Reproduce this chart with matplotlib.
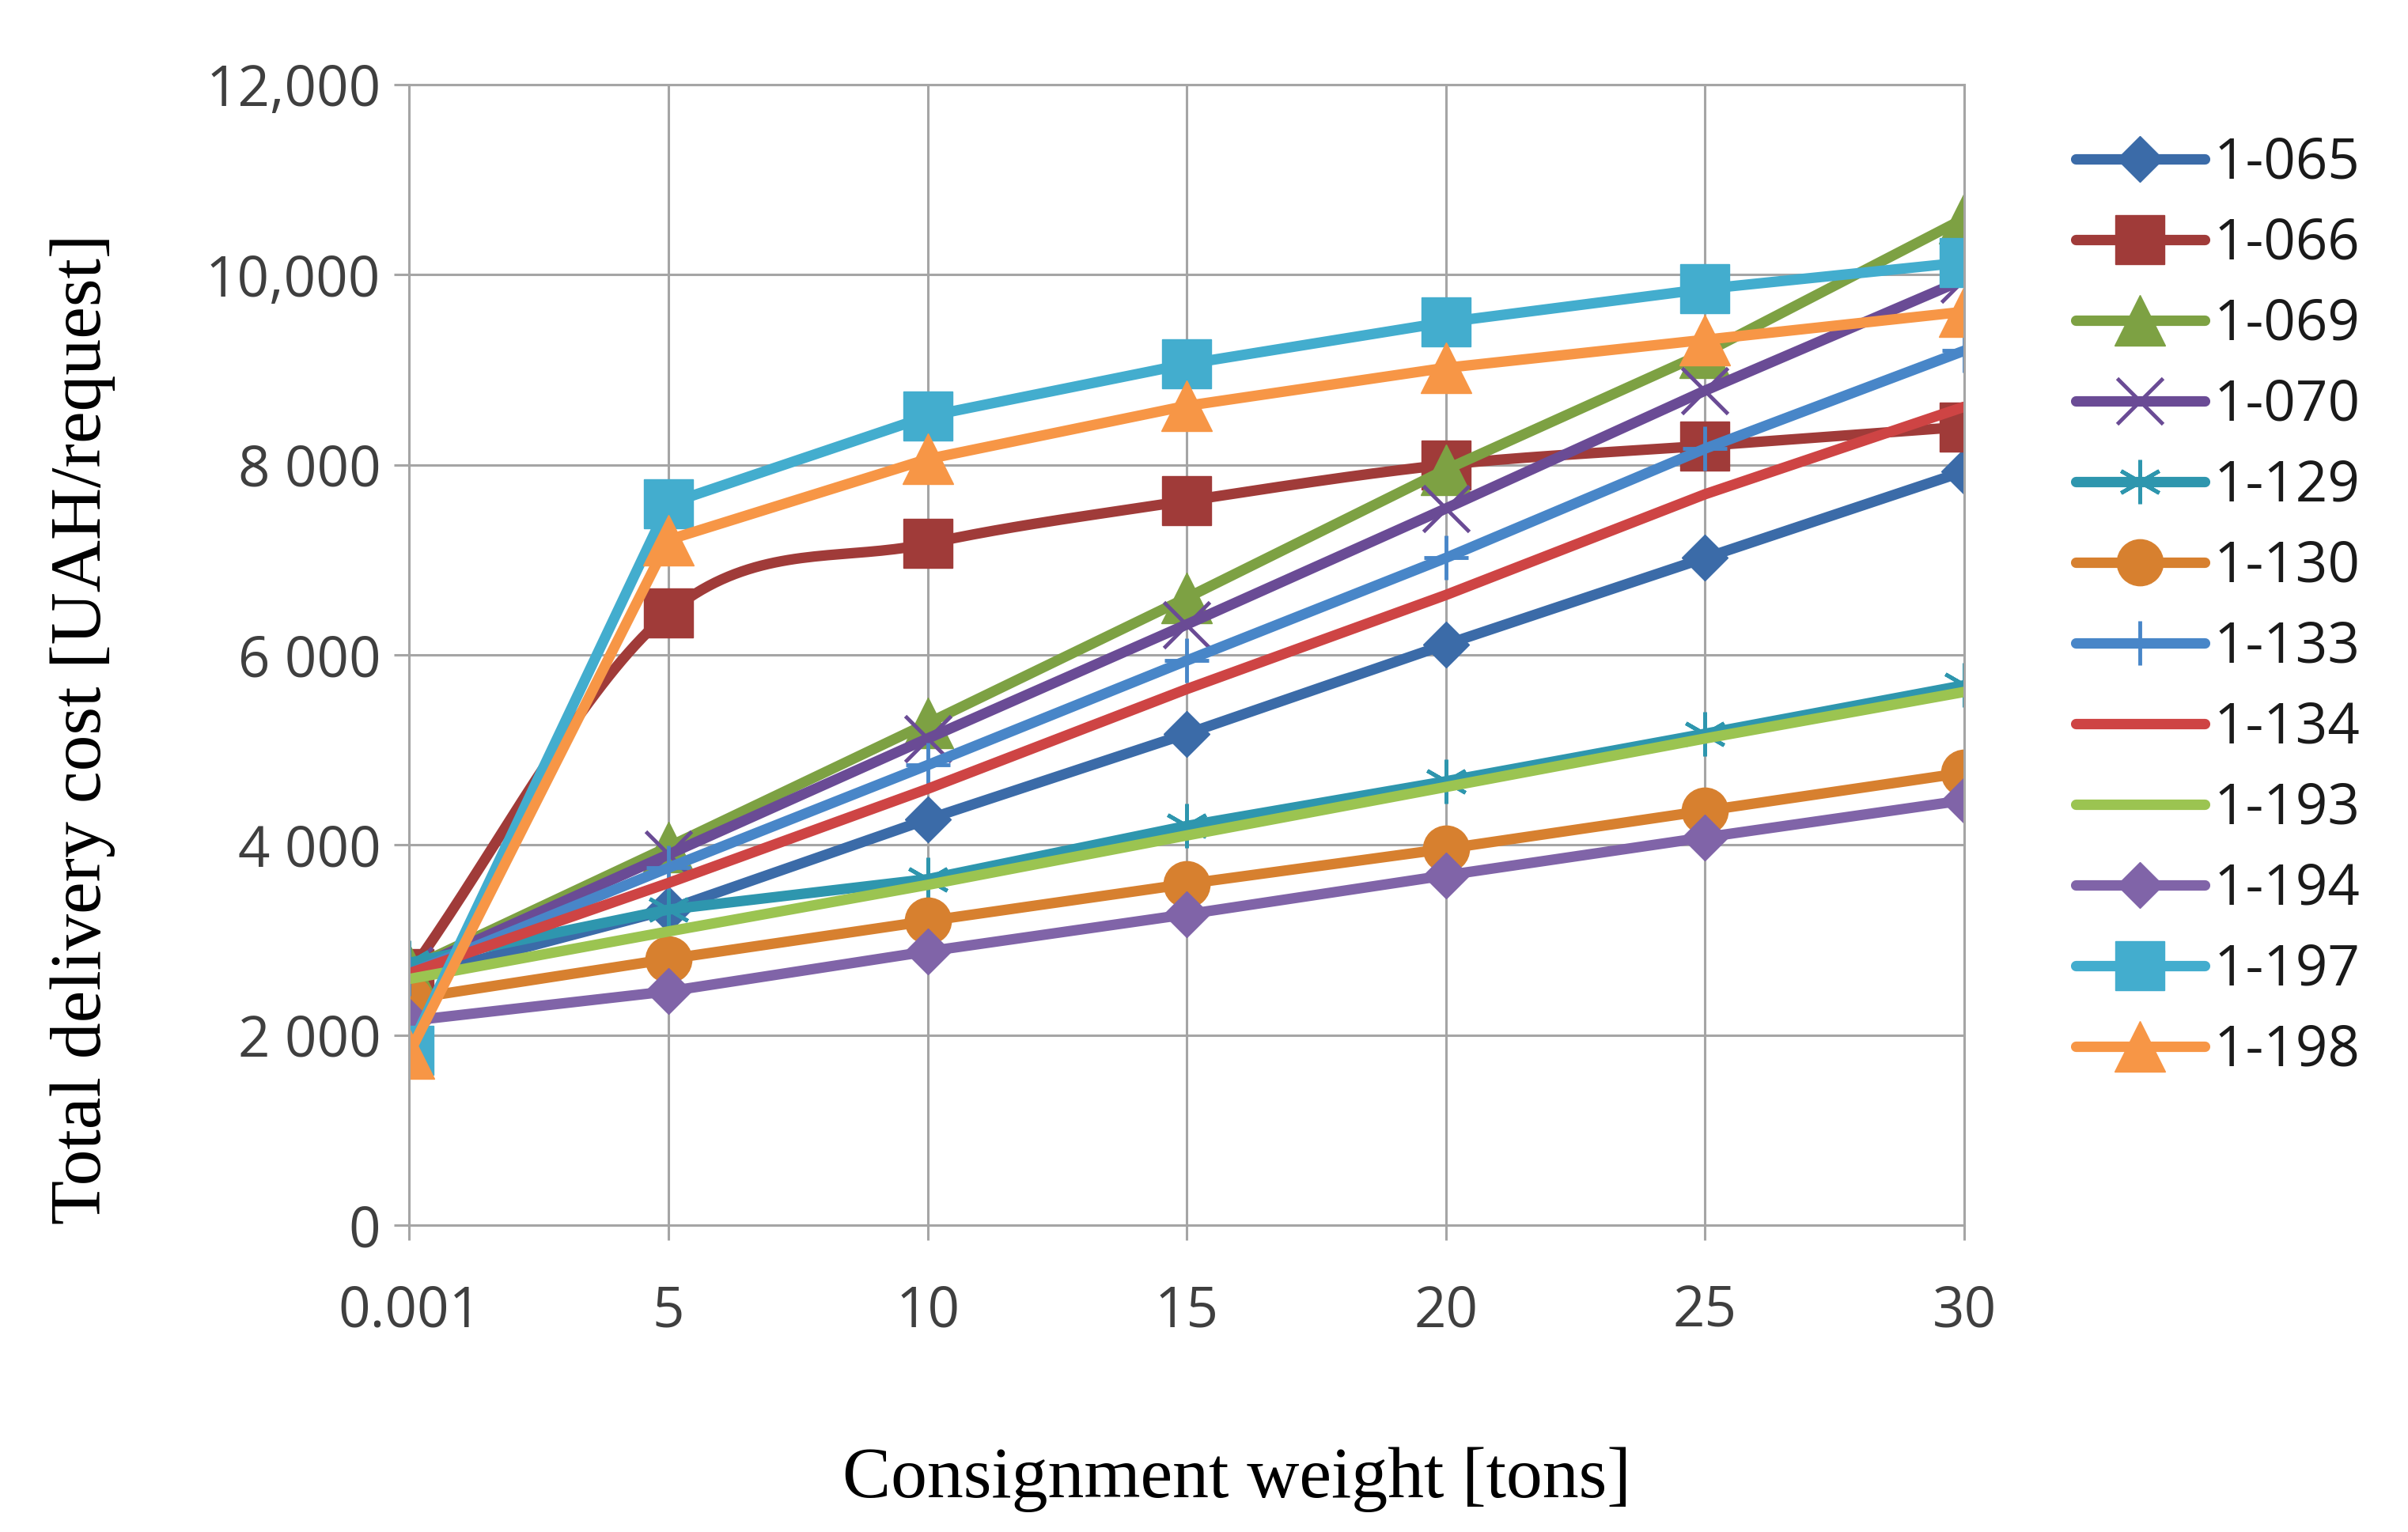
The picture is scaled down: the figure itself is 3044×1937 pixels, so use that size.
import numpy as np
import matplotlib.pyplot as plt

# categories on x and y tick text
weights = ['0.001', '5', '10', '15', '20', '25', '30']
y_ticks = [0, 2000, 4000, 6000, 8000, 10000, 12000]
y_tick_labels = ['0', '2 000', '4 000', '6 000', '8 000', '10,000', '12,000']

# delivery cost per request for each tariff
s_065 = [2600, 3320, 4270, 5170, 6110, 7020, 7930]
s_066 = [2650, 6440, 7170, 7620, 8000, 8200, 8400]
s_069 = [2700, 3980, 5280, 6600, 7950, 9180, 10590]
s_070 = [2680, 3900, 5120, 6320, 7540, 8780, 9950]
s_129 = [2760, 3320, 3640, 4200, 4670, 5170, 5680]
s_130 = [2380, 2800, 3200, 3590, 3960, 4360, 4760]
s_133 = [2650, 3760, 4840, 5940, 7020, 8170, 9200]
s_134 = [2650, 3600, 4590, 5640, 6630, 7690, 8610]
s_193 = [2590, 3090, 3580, 4100, 4610, 5120, 5610]
s_194 = [2150, 2460, 2880, 3270, 3680, 4080, 4470]
s_197 = [1840, 7590, 8510, 9060, 9500, 9850, 10130]
s_198 = [1810, 7210, 8060, 8620, 9020, 9315, 9610]

names = ['1-065', '1-066', '1-069', '1-070', '1-129', '1-130',
         '1-133', '1-134', '1-193', '1-194', '1-197', '1-198']
series = [s_065, s_066, s_069, s_070, s_129, s_130,
          s_133, s_134, s_193, s_194, s_197, s_198]
colors = ['#3B6BA8', '#A03B39', '#7DA143', '#6A4B95', '#2E96AE', '#D7802F',
          '#4886C8', '#CE4444', '#9BC451', '#8064A8', '#43ADCE', '#F79646']
markers = ['D', 's', '^', 'x', (6, 2, 0), 'o', '+', None, None, 'D', 's', '^']
msizes = [30, 44, 46, 42, 40, 42, 40, 0, 0, 30, 44, 46]
smooth = [False, True] + [False] * 10
LW = 9.5


def catmull_rom(y, n=40):
    # smoothed path through the points, like Excel's "smoothed line"
    y = np.asarray(y, float)
    x = np.arange(len(y), dtype=float)
    m = np.gradient(y, x)
    xs, ys = [], []
    for i in range(len(y) - 1):
        t = np.linspace(0, 1, n)
        h00 = 2 * t**3 - 3 * t**2 + 1
        h10 = t**3 - 2 * t**2 + t
        h01 = -2 * t**3 + 3 * t**2
        h11 = t**3 - t**2
        xs.append(x[i] + t)
        ys.append(h00 * y[i] + h10 * m[i] + h01 * y[i + 1] + h11 * m[i + 1])
    return np.concatenate(xs), np.concatenate(ys)


fig = plt.figure(figsize=(30.44, 19.37), dpi=100)
ax = fig.add_axes([0.170, 0.2003, 0.6457, 0.7445])

xpos = np.arange(len(weights))
for name, vals, c, mk, ms, sm in zip(names, series, colors, markers, msizes, smooth):
    mew = 3.5 if mk in ('x', '+') or isinstance(mk, tuple) else 1
    if sm:
        xx, yy = catmull_rom(vals)
        ax.plot(xx, yy, color=c, lw=LW, solid_capstyle='round', solid_joinstyle='round')
        ax.plot(xpos, vals, ls='none', marker=mk, ms=ms, color=c, mew=mew)
        ax.plot([], [], color=c, lw=LW, marker=mk, ms=ms, mew=mew,
                solid_capstyle='round', label=name)
    else:
        ax.plot(xpos, vals, color=c, lw=LW, marker=mk, ms=ms, mew=mew,
                solid_capstyle='round', solid_joinstyle='round', label=name)

ax.set_xlim(0, 6)
ax.set_ylim(0, 12000)
ax.set_xticks(xpos)
ax.set_xticklabels(weights)
ax.set_yticks(y_ticks)
ax.set_yticklabels(y_tick_labels)
ax.grid(True, color='#A5A5A5', lw=2.2)
ax.set_axisbelow(True)
for sp in ax.spines.values():
    sp.set_color('#A5A5A5')
    sp.set_linewidth(2.2)
ax.tick_params(axis='both', length=14, width=2.2, color='#A5A5A5',
               labelsize=51, labelcolor='#3F3F3F')
ax.tick_params(axis='y', pad=12)
ax.tick_params(axis='x', pad=39)
for lab in ax.get_xticklabels() + ax.get_yticklabels():
    lab.set_family('Open Sans')

fig.text(0.0345, 0.524, 'Total delivery cost [UAH/request]', rotation=90,
         ha='center', va='center', fontsize=66, family='Liberation Serif')
fig.text(0.5135, 0.034, 'Consignment weight [tons]', ha='center', va='center',
         fontsize=66, family='Liberation Serif')

leg = ax.legend(loc='center left', bbox_to_anchor=(0.862, 0.6035),
                bbox_transform=fig.transFigure, frameon=False, borderpad=0,
                borderaxespad=0, handlelength=2.3, handletextpad=0.16,
                labelspacing=0.43, prop={'family': 'Open Sans', 'size': 51})
for t in leg.get_texts():
    t.set_color('#1A1A1A')

fig.savefig('out.png', dpi=100)
